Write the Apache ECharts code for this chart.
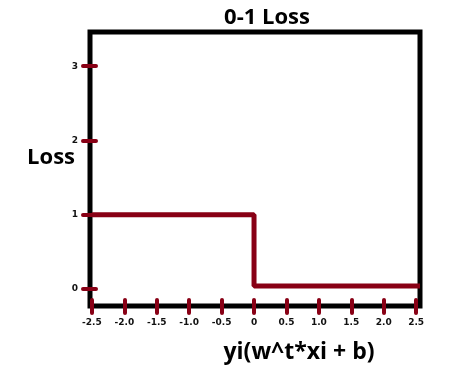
<!DOCTYPE html>
<html>
<head>
<meta charset="utf-8">
<script src="https://cdn.jsdelivr.net/npm/echarts@6/dist/echarts.min.js"></script>
<style>
  html, body { margin: 0; padding: 0; background: #fff; }
  #main { width: 455px; height: 376px; }
</style>
</head>
<body>
<div id="main"></div>
<script>
// tick values and the step curve of the 0-1 loss
var xTicks = [-2.5, -2.0, -1.5, -1.0, -0.5, 0, 0.5, 1.0, 1.5, 2.0, 2.5];
var yTicks = [0, 1, 2, 3];
var lossX = [-2.5, 0, 0, 2.56];
var lossY = [1, 1, 0.04, 0.04];

var darkRed = '#880015';
var chart = echarts.init(document.getElementById('main'));

function xLabel(v) {
    return v === 0 ? '0' : v.toFixed(1);
}

var tickFont = {
    color: '#111',
    fontFamily: 'DejaVu Sans',
    fontSize: 9,
    fontWeight: 'bold'
};

option = {
    animation: false,
    title: {
        text: '0-1 Loss',
        left: 262,
        textAlign: 'center',
        top: 2,
        textStyle: {
            fontFamily: 'Open Sans',
            fontSize: 22,
            fontWeight: 'bold',
            color: '#000'
        }
    },
    grid: {
        left: 90,
        right: 35,
        top: 32,
        bottom: 70,
        show: true,
        borderColor: '#000',
        borderWidth: 5
    },
    xAxis: [
        {
            type: 'value',
            min: -2.53,
            max: 2.56,
            name: 'yi(w^t*xi + b)',
            nameLocation: 'middle',
            nameMoveOverlap: false,
            nameGap: 35,
            nameTextStyle: {
                fontFamily: 'Open Sans',
                fontSize: 23,
                fontWeight: 'bold',
                color: '#000',
                padding: [0, 0, 0, 88]
            },
            axisLine: { show: false, onZero: false },
            axisTick: { show: false },
            splitLine: { show: false },
            axisLabel: Object.assign({
                margin: 12,
                customValues: xTicks,
                formatter: xLabel
            }, tickFont)
        },
        {
            type: 'value',
            min: -2.53,
            max: 2.56,
            position: 'bottom',
            offset: -6,
            axisLine: { show: false, onZero: false },
            axisLabel: { show: false },
            splitLine: { show: false },
            axisTick: {
                show: true,
                length: 13,
                customValues: xTicks,
                lineStyle: { color: darkRed, width: 4, cap: 'round' }
            }
        }
    ],
    yAxis: [
        {
            type: 'value',
            min: -0.23,
            max: 3.46,
            name: 'Loss',
            nameLocation: 'middle',
            nameMoveOverlap: false,
            nameRotate: 0,
            nameGap: 15,
            nameTextStyle: {
                fontFamily: 'Open Sans',
                fontSize: 22,
                fontWeight: 'bold',
                color: '#000',
                verticalAlign: 'bottom'
            },
            axisLine: { show: false, onZero: false },
            axisTick: { show: false },
            splitLine: { show: false },
            axisLabel: Object.assign({
                margin: 12,
                customValues: yTicks
            }, tickFont)
        },
        {
            type: 'value',
            min: -0.23,
            max: 3.46,
            position: 'left',
            offset: -6,
            axisLine: { show: false, onZero: false },
            axisLabel: { show: false },
            splitLine: { show: false },
            axisTick: {
                show: true,
                length: 13,
                customValues: yTicks,
                lineStyle: { color: darkRed, width: 4, cap: 'round' }
            }
        }
    ],
    series: [
        {
            name: '0-1 Loss',
            type: 'line',
            xAxisIndex: 0,
            yAxisIndex: 0,
            symbol: 'none',
            data: lossX.map(function (x, i) { return [x, lossY[i]]; }),
            lineStyle: { color: darkRed, width: 5 }
        }
    ]
};

chart.setOption(option);
</script>
</body>
</html>
